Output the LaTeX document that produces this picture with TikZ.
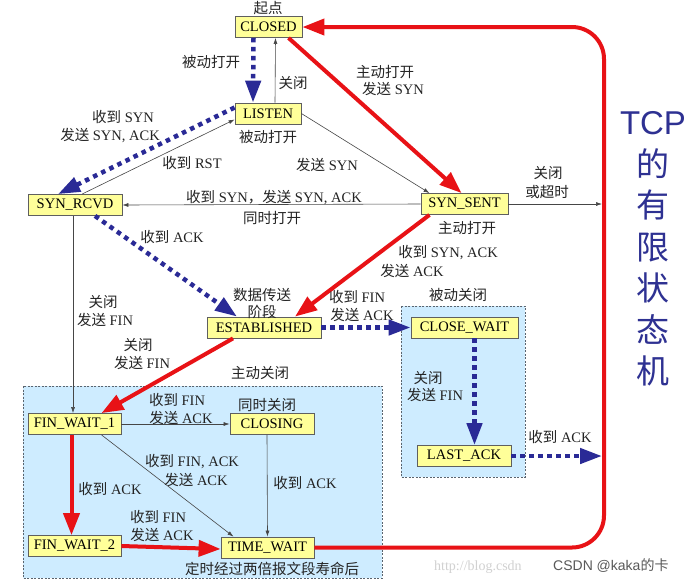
\documentclass[tikz,border=0pt]{standalone}
\usepackage{fontspec}
\setmainfont{Liberation Serif}
\newfontfamily\cjk{Noto Sans CJK SC}
\newfontfamily\heifont{Liberation Sans}
\usetikzlibrary{arrows.meta}
\definecolor{boxfill}{RGB}{255,255,153}
\definecolor{boxborder}{RGB}{95,95,95}
\definecolor{labeltext}{RGB}{35,35,35}
\definecolor{thinline}{RGB}{70,70,70}
\definecolor{redc}{RGB}{232,18,22}
\definecolor{bluec}{RGB}{42,42,150}
\definecolor{titlec}{RGB}{46,49,146}
\definecolor{regionfill}{RGB}{206,236,255}
\definecolor{regionborder}{RGB}{90,100,110}
\newcommand\zh[1]{{\cjk #1}}
\begin{document}
\begin{tikzpicture}[x=1pt,y=-1pt,
  state/.style={draw=boxborder, fill=boxfill, line width=0.8pt, minimum height=21pt, inner sep=0pt, font=\fontsize{14.5}{16}\selectfont},
  lbl/.style={inner sep=0pt, text=labeltext, font=\fontsize{14.5}{16}\selectfont},
  thinarr/.style={draw=thinline, line width=0.6pt, -{Latex[length=6pt,width=4pt]}},
  redarr/.style={draw=redc, line width=4pt, -{Triangle[length=22pt,width=16pt]}},
  bluedot/.style={draw=bluec, line width=4.5pt, dash pattern=on 4.5pt off 4.5pt, -{Triangle[length=22pt,width=15pt]}},
  region/.style={fill=regionfill, draw=regionborder, line width=0.6pt, dash pattern=on 2pt off 1.5pt}]
\useasboundingbox (0,0) rectangle (693,582);
\fill[white] (0,0) rectangle (693,582);

% regions
\path[region] (23,386) rectangle (382,578);
\path[region] (401,306) rectangle (525,477);

% states
\node[state, minimum width=67pt] (CLOSED) at (268.5,27) {CLOSED};
\node[state, minimum width=66pt] (LISTEN) at (268,113.5) {LISTEN};
\node[state, minimum width=94pt] (SYNRCVD) at (75,205) {SYN\_RCVD};
\node[state, minimum width=87pt] (SYNSENT) at (464.5,204) {SYN\_SENT};
\node[state, minimum width=114pt] (ESTAB) at (264,327.5) {ESTABLISHED};
\node[state, minimum width=107pt] (CLOSEWAIT) at (464.5,327.5) {CLOSE\_WAIT};
\node[state, minimum width=94pt] (LASTACK) at (464,456) {LAST\_ACK};
\node[state, minimum width=93pt] (FW1) at (74.5,424) {FIN\_WAIT\_1};
\node[state, minimum width=84pt] (CLOSING) at (272,424) {CLOSING};
\node[state, minimum width=93pt] (FW2) at (74.5,546) {FIN\_WAIT\_2};
\node[state, minimum width=93pt] (TW) at (267.5,547.5) {TIME\_WAIT};

\coordinate (br) at (604,547.5);
\coordinate (tr) at (604,27);
\coordinate (rt) at (602,204);
\coordinate (rl) at (602,456);

% red loop
\draw[redarr, rounded corners=32pt] (TW.east) -- (br) -- (tr) -- (CLOSED.east);

% thin arrows
\draw[thinarr] ([xshift=7pt]LISTEN.north) -- ([xshift=7pt]CLOSED.south);
\draw[thinarr] ([xshift=7pt]SYNRCVD.north) -- ([yshift=-6pt]LISTEN.west);
\draw[thinarr] (LISTEN.east) -- ([xshift=-35pt]SYNSENT.north);
\draw[thinarr] (SYNSENT.west) -- (SYNRCVD.east);
\draw[thinarr] (SYNSENT.east) -- (rt);
\draw[thinarr] ([xshift=-2pt]SYNRCVD.south) -- ([xshift=-1.5pt]FW1.north);
\draw[thinarr] (FW1.east) -- (CLOSING.west);
\draw[thinarr] ([xshift=27pt]FW1.south) -- ([xshift=-34pt]TW.north);
\draw[thinarr] ([xshift=-5pt]CLOSING.south) -- (TW.north);

% red arrows
\draw[redarr] ([xshift=20pt]CLOSED.south) -- ([xshift=-3pt]SYNSENT.north);
\draw[redarr] ([xshift=-35pt]SYNSENT.south) -- ([xshift=31pt]ESTAB.north);
\draw[redarr] ([xshift=-31pt]ESTAB.south) -- ([xshift=27pt]FW1.north);
\draw[redarr] ([xshift=-3pt]FW1.south) -- ([xshift=-3pt]FW2.north);
\draw[redarr] (FW2.east) -- ([yshift=-1.5pt]TW.west);

% blue dotted arrows
\draw[bluedot] ([xshift=-15pt]CLOSED.south) -- ([xshift=-15pt]LISTEN.north);
\draw[bluedot] ([yshift=6pt]LISTEN.west) -- ([xshift=-17pt]SYNRCVD.north);
\draw[bluedot] ([xshift=20pt]SYNRCVD.south) -- ([xshift=-27pt]ESTAB.north);
\draw[bluedot] (ESTAB.east) -- (CLOSEWAIT.west);
\draw[bluedot] ([xshift=10pt]CLOSEWAIT.south) -- ([xshift=10.5pt]LASTACK.north);
\draw[bluedot] (LASTACK.east) -- (rl);

% labels
\node[lbl] (l1) at (268,8) {\zh{起点}};
\node[lbl] (l2) at (211,62) {\zh{被动打开}};
\node[lbl] (l3) at (293,83) {\zh{关闭}};
\node[lbl] (l4) at (268,137) {\zh{被动打开}};
\node[lbl] (l5) at (123,117) {\zh{收到} SYN};
\node[lbl] (l6) at (110,135) {\zh{发送} SYN, ACK};
\node[lbl] (l7) at (192,163) {\zh{收到} RST};
\node[lbl] (l8) at (327,165) {\zh{发送} SYN};
\node[lbl] (l9) at (385,72) {\zh{主动打开}};
\node[lbl] (l10) at (393,89) {\zh{发送} SYN};
\node[lbl] (l11) at (274,197) {\zh{收到} SYN\zh{，发送} SYN, ACK};
\node[lbl] (l12) at (272,218) {\zh{同时打开}};
\node[lbl] (l13) at (548,173) {\zh{关闭}};
\node[lbl] (l14) at (547,192) {\zh{或超时}};
\node[lbl] (l15) at (467,228) {\zh{主动打开}};
\node[lbl] (l16) at (448,253) {\zh{收到} SYN, ACK};
\node[lbl] (l17) at (412,271) {\zh{发送} ACK};
\node[lbl] (l18) at (172,237) {\zh{收到} ACK};
\node[lbl] (l19) at (103,302) {\zh{关闭}};
\node[lbl] (l20) at (105,320) {\zh{发送} FIN};
\node[lbl] (l21) at (262,295) {\zh{数据传送}};
\node[lbl] (l22) at (262,312) {\zh{阶段}};
\node[lbl] (l23) at (357,297) {\zh{收到} FIN};
\node[lbl] (l24) at (362,315) {\zh{发送} ACK};
\node[lbl] (l25) at (458,295) {\zh{被动关闭}};
\node[lbl] (l26) at (138,345) {\zh{关闭}};
\node[lbl] (l27) at (142,363) {\zh{发送} FIN};
\node[lbl] (l28) at (260,373) {\zh{主动关闭}};
\node[lbl] (l29) at (428,378) {\zh{关闭}};
\node[lbl] (l30) at (435,395) {\zh{发送} FIN};
\node[lbl] (l31) at (560,437) {\zh{收到} ACK};
\node[lbl] (l32) at (177,400) {\zh{收到} FIN};
\node[lbl] (l33) at (181,418) {\zh{发送} ACK};
\node[lbl] (l34) at (267,405) {\zh{同时关闭}};
\node[lbl] (l35) at (192,462) {\zh{收到} FIN, ACK};
\node[lbl] (l36) at (196,480) {\zh{发送} ACK};
\node[lbl] (l37) at (305,483) {\zh{收到} ACK};
\node[lbl] (l38) at (110,489) {\zh{收到} ACK};
\node[lbl] (l39) at (158,517) {\zh{收到} FIN};
\node[lbl] (l40) at (162,535) {\zh{发送} ACK};
\node[lbl] (l41) at (272,569) {\zh{定时经过两倍报文段寿命后}};

% title
\node[inner sep=0pt, align=center, text=titlec, font=\fontsize{33}{41.5}\selectfont] (title) at (653,249)
  {\heifont TCP\\\zh{的}\\\zh{有}\\\zh{限}\\\zh{状}\\\zh{态}\\\zh{机}};

% watermarks
\node[inner sep=0pt, anchor=west, text=black!18, font=\fontsize{14}{16}\selectfont] (wm1) at (434,567) {http://blog.csdn};
\node[inner sep=0pt, anchor=west, text=black!65, font=\fontsize{14}{16}\selectfont] (wm2) at (553,566) {\heifont CSDN @kaka\zh{的卡}};
\end{tikzpicture}
\end{document}
